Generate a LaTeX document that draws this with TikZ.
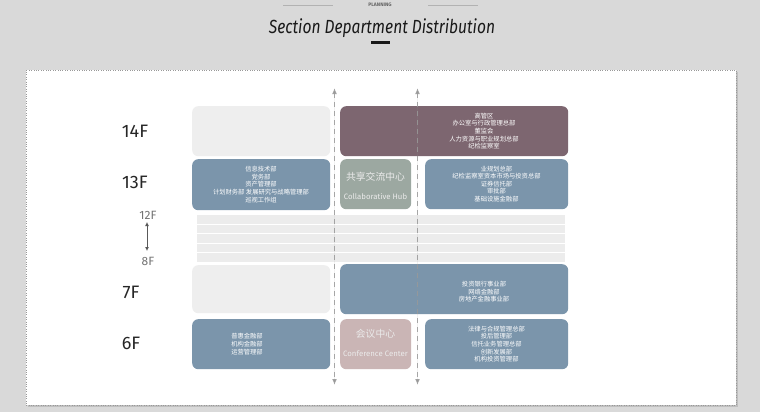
\documentclass[tikz,border=0pt]{standalone}
\usepackage{fontspec}
\newfontfamily\cjk{Noto Sans CJK SC}
\newfontfamily\lab{Fira Sans}
\usetikzlibrary{arrows.meta}
\definecolor{bgc}{HTML}{D9D9D9}
\definecolor{purp}{HTML}{7D6670}
\definecolor{blu}{HTML}{7B95AB}
\definecolor{hub}{HTML}{9CA8A1}
\definecolor{pnk}{HTML}{CAB5B5}
\definecolor{lgr}{HTML}{EEEEEE}
\definecolor{strp}{HTML}{ECECEC}
\definecolor{dsh}{HTML}{999999}
\tikzset{
  box/.style={rounded corners=6pt, anchor=north west, inner sep=0pt, align=center, text=white, font=\cjk\fontsize{6.3}{7.6}\selectfont},
  floorlab/.style={font=\lab\fontsize{18}{18}\selectfont, text=black!85},
  minilab/.style={font=\lab\fontsize{12}{12}\selectfont, text=black!55},
  stripe/.style={fill=strp, draw=none, anchor=north west, inner sep=0pt, minimum width=368pt, minimum height=8.5pt},
  dashline/.style={draw=dsh, line width=1.4pt, dash pattern=on 5pt off 4pt, {Latex[length=6pt,width=5pt]}-{Latex[length=6pt,width=5pt]}},
}
\begin{document}
\begin{tikzpicture}[x=1pt,y=-1pt]
\fill[bgc] (0,0) rectangle (760,412);
\useasboundingbox (0,0) rectangle (760,412);
% header
\node[font=\lab\bfseries\fontsize{5}{5}\selectfont, text=black!60] (plan) at (380,5) {PLANNING};
\draw[black!30, line width=0.6pt] (283,5) -- (333,5);
\draw[black!30, line width=0.6pt] (428,5) -- (478,5);
\node[font=\lab\itshape\fontsize{19}{19}\selectfont, text=black!90] (title) at (382,28) {\scalebox{0.82}[1]{Section Department Distribution}};
\fill[black!90] (371,41) rectangle (390,44);
% panel
\fill[black!25] (28,72) rectangle (738,407);
\node[draw=black!40, dotted, fill=white, anchor=north west, inner sep=0pt, minimum width=710pt, minimum height=335pt] (panel) at (26,70) {};
% floor labels
\node[floorlab] (f14) at (135,131) {14F};
\node[floorlab] (f13) at (135,182) {13F};
\node[floorlab] (f7) at (131,292) {7F};
\node[floorlab] (f6) at (131,343) {6F};
\node[minilab] (f12) at (148,215) {12F};
\node[minilab] (f8) at (148,261) {8F};
\coordinate (a12) at (147,222);
\coordinate (a8) at (147,251);
\draw[black!65, line width=0.8pt, {Latex[length=4pt,width=4pt]}-{Latex[length=4pt,width=4pt]}] (a12) -- (a8);
% stripes
\node[stripe] (s1) at (197,215) {};
\node[stripe] (s2) at (197,224.5) {};
\node[stripe] (s3) at (197,234) {};
\node[stripe] (s4) at (197,243.5) {};
\node[stripe] (s5) at (197,253) {};
% 14F
\node[box, fill=lgr, minimum width=138pt, minimum height=50pt] (l14) at (192,106) {};
\node[box, fill=purp, minimum width=228pt, minimum height=50pt] (r14) at (340,106) {};
\node[box] (t14) at (484,131) [anchor=center] {高管区\\办公室与行政管理总部\\董监会\\人力资源与职业规划总部\\纪检监察室};
% 13F
\node[box, fill=blu, minimum width=138pt, minimum height=51pt] (l13) at (192,159) {};
\node[box, anchor=center] (t13l) at (261,184.5) {信息技术部\\党务部\\资产管理部\\计划财务部 发展研究与战略管理部\\巡视工作组};
\node[box, fill=hub, minimum width=71pt, minimum height=50pt] (hubbox) at (340,159) {};
\node[font=\cjk\fontsize{9.8}{10}\selectfont, text=white!92!black] (hub1) at (375.5,177) {共享交流中心};
\node[font=\lab\fontsize{7.8}{8}\selectfont, text=white!92!black] (hub2) at (375.5,197) {Collaborative Hub};
\node[box, fill=blu, minimum width=143pt, minimum height=50pt] (r13) at (425,159) {};
\node[box, anchor=center] (t13r) at (496.5,184) {业规划总部\\纪检监察室资本市场与投资总部\\证券信托部\\审批部\\基础设施金融部};
% 7F
\node[box, fill=lgr, minimum width=138pt, minimum height=48pt] (l7) at (192,265) {};
\node[box, fill=blu, minimum width=228pt, minimum height=50pt] (r7) at (340,264) {};
\node[box, anchor=center] (t7) at (484,292) {投资银行事业部\\网络金融部\\房地产金融事业部};
% 6F
\node[box, fill=blu, minimum width=138pt, minimum height=50pt] (l6) at (192,319) {};
\node[box, anchor=center] (t6l) at (247,344) {普惠金融部\\机构金融部\\运营管理部};
\node[box, fill=pnk, minimum width=71pt, minimum height=50pt] (confbox) at (340,319) {};
\node[font=\cjk\fontsize{9.8}{10}\selectfont, text=white!92!black] (conf1) at (375.5,334) {会议中心};
\node[font=\lab\fontsize{7.8}{8}\selectfont, text=white!92!black] (conf2) at (375.5,354) {Conference Center};
\node[box, fill=blu, minimum width=143pt, minimum height=50pt] (r6) at (425,319) {};
\node[box, anchor=center] (t6r) at (496.5,344) {法律与合规管理总部\\投后管理部\\信托业务管理总部\\创新发展部\\机构投资管理部};
% dashed axes
\coordinate (d1t) at (334.5,88);
\coordinate (d1b) at (334.5,385);
\coordinate (d2t) at (417.5,88);
\coordinate (d2b) at (417.5,385);
\draw[dashline, draw opacity=0.85, fill=dsh] (d1t) -- (d1b);
\draw[dashline, draw opacity=0.85, fill=dsh] (d2t) -- (d2b);
\end{tikzpicture}
\end{document}
